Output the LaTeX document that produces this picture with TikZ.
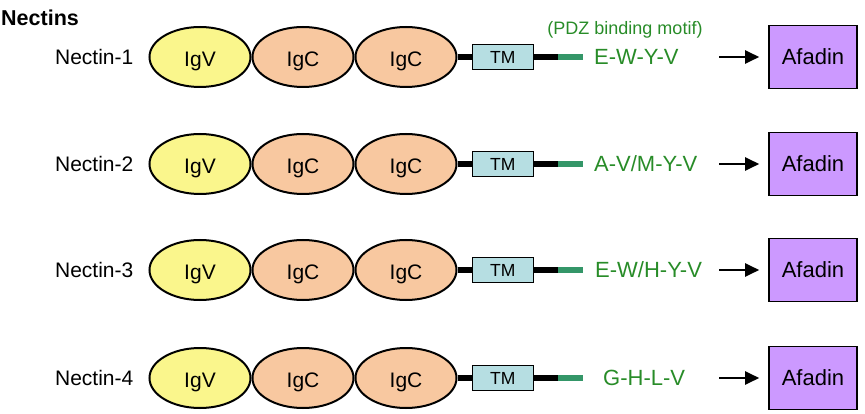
\documentclass[tikz,border=0pt]{standalone}
\usepackage{fontspec}
\setmainfont{Liberation Sans}
\usetikzlibrary{positioning,arrows.meta,shapes.geometric}
\definecolor{igvyellow}{RGB}{250,246,140}
\definecolor{igcorange}{RGB}{248,200,160}
\definecolor{tmblue}{RGB}{182,222,226}
\definecolor{afadinviolet}{RGB}{204,153,255}
\definecolor{motifgreen}{RGB}{40,140,40}
\definecolor{pdzgreen}{RGB}{52,150,104}
\newcommand{\fsz}[1]{\fontsize{#1}{#1}\selectfont}

\begin{document}
\begin{tikzpicture}[x=1pt, y=-1pt, >={Triangle[length=14pt,width=13pt]},
  igdomain/.style={ellipse, draw, line width=2pt, minimum width=101pt,
                 minimum height=60pt, inner sep=0pt, text height=19pt,
                 text depth=0pt, font=\fsz{21}},
  tmbox/.style={draw, line width=1.4pt, fill=tmblue, minimum width=61pt,
                minimum height=25pt, inner sep=0pt, font=\fsz{17.5}},
  afadinbox/.style={draw, line width=1.6pt, fill=afadinviolet, minimum width=88pt,
                    minimum height=63pt, inner sep=0pt, font=\fsz{22}}]
  \useasboundingbox (0,0) rectangle (865,414);
  \node[font=\bfseries\fsz{21.5}, anchor=west, inner sep=0pt] (title) at (1,18) {Nectins};
  \node[font=\fsz{18}, text=motifgreen] (pdz) at (625,30) {(PDZ binding motif)};
  \foreach \i/\y/\motif/\mx in {1/57/E-W-Y-V/594, 2/164/{A-V/M-Y-V}/594,
                                3/270/{E-W/H-Y-V}/595, 4/378/G-H-L-V/603}{
    \node[igdomain, fill=igvyellow] (igv\i) at (200,\y) {IgV};
    \node[igdomain, fill=igcorange, right=0pt of igv\i] (igca\i) {IgC};
    \node[igdomain, fill=igcorange, right=0pt of igca\i] (igcb\i) {IgC};
    \node[font=\fsz{21}, inner sep=0pt, left=15pt of igv\i] (name\i) {Nectin-\i};
    \node[tmbox, right=14pt of igcb\i] (tm\i) {TM};
    \node[font=\fsz{22}, text=motifgreen, anchor=west, inner sep=0pt] (motif\i) at (\mx,\y) {\motif};
    \node[afadinbox] (afadin\i) at (813,\y) {Afadin};
    \coordinate (pdzs\i) at (558,\y);
    \coordinate (pdze\i) at (583,\y);
    \coordinate (arr\i) at (719,\y);
    \draw[line width=5.5pt] (igcb\i) -- (tm\i);
    \draw[line width=5.5pt] (tm\i.east) -- (pdzs\i);
    \draw[line width=6pt, pdzgreen] (pdzs\i) -- (pdze\i);
    \draw[->, line width=2.2pt] (arr\i) -- ([xshift=-9pt]afadin\i.west);
  }
\end{tikzpicture}
\end{document}
